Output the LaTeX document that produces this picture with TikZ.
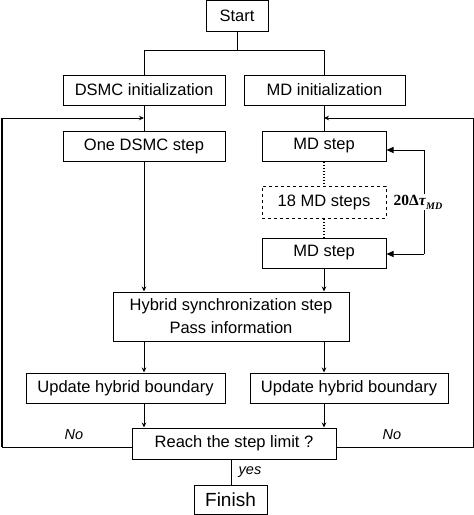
\documentclass[tikz,border=0pt]{standalone}
\usepackage{fontspec}
\setmainfont{Liberation Sans}
\newfontfamily\serifmd{Liberation Serif}
\usetikzlibrary{arrows.meta}
\begin{document}
\begin{tikzpicture}[x=1pt,y=-1pt,
  box/.style={draw,line width=1pt,inner sep=0pt,font=\fontsize{16.5}{20}\selectfont,align=center},
  ln/.style={line width=1pt},
  arr/.style={line width=1pt,-{Stealth[length=5pt,width=4.5pt]}},
  barr/.style={line width=1pt,-{Triangle[length=7pt,width=6pt]}},
  lab/.style={font=\fontsize{14.5}{16}\selectfont\itshape,inner sep=0pt}]
\useasboundingbox (0,0) rectangle (474,515);
\node[box,minimum width=62pt,minimum height=31pt] (start) at (237,16) {Start};
\node[box,minimum width=162pt,minimum height=30pt] (dinit) at (144,90) {DSMC initialization};
\node[box,minimum width=161pt,minimum height=30pt] (minit) at (324.5,90) {MD initialization};
\node[box,minimum width=162pt,minimum height=30pt] (dstep) at (144,146) {One DSMC step};
\node[box,minimum width=124pt,minimum height=30pt] (md1) at (324,146) {MD step};
\node[box,dashed,minimum width=124pt,minimum height=32pt] (md18) at (324,202) {18 MD steps};
\node[box,minimum width=124pt,minimum height=30pt] (md2) at (324,253) {MD step};
\node[box,minimum width=236pt,minimum height=49pt] (hyb) at (231,316.5) {Hybrid synchronization step\\[3pt]Pass information};
\node[box,minimum width=199pt,minimum height=30pt] (updl) at (125.5,388) {Update hybrid boundary};
\node[box,minimum width=198pt,minimum height=30pt] (updr) at (349,388) {Update hybrid boundary};
\node[box,minimum width=204pt,minimum height=31pt] (reach) at (234,443.5) {Reach the step limit ?};
\node[box,minimum width=73pt,minimum height=29pt,font=\fontsize{19}{22}\selectfont] (fin) at (230.5,499.5) {Finish};
% split from start
\coordinate (split) at (237,50);
\draw[ln] (start.south) -- (split);
\draw[ln] (split) -| (dinit.north);
\draw[ln] (split) -| ([xshift=-0.5pt]minit.north);
% columns
\draw[ln] (dinit.south) -- (dstep.north);
\draw[ln] ([xshift=-0.5pt]minit.south) -- (md1.north);
\draw[ln,dotted,line width=1.3pt] (md1.south) -- (md18.north);
\draw[ln,dotted,line width=1.3pt] (md18.south) -- (md2.north);
% MD loop
\coordinate (r1) at (424,150);
\coordinate (r2) at (424,254);
\draw[ln] (r1) -- (r2);
\draw[barr] (r1) -- (md1.east |- r1);
\draw[barr] (r2) -- (md2.east |- r2);
\node[fill=white,inner sep=1pt,font=\fontsize{15.5}{16}\selectfont] (tau) at (418,202) {\serifmd\bfseries 20Δ\textit{τ}\raisebox{-4pt}{\fontsize{10}{10}\selectfont\itshape MD}};
% into hybrid
\draw[arr] (dstep.south) -- (dstep.south |- hyb.north);
\draw[arr] (md2.south) -- (md2.south |- hyb.north);
% hybrid to updates
\coordinate (hl) at (144,341);
\coordinate (hr) at (324,341);
\draw[arr] (hl) -- (hl |- updl.north);
\draw[arr] (hr) -- (hr |- updr.north);
% updates to reach
\coordinate (ul) at (144,403);
\coordinate (ur) at (324,403);
\draw[arr] (ul) -- (ul |- reach.north);
\draw[arr] (ur) -- (ur |- reach.north);
% outer loops
\coordinate (ll) at (2,447);
\coordinate (lt) at (2,118);
\coordinate (rl) at (473,447);
\coordinate (rt) at (473,118);
\draw[ln] (reach.west |- ll) -- (ll);
\draw[ln,line width=2pt] (ll) -- (lt);
\draw[arr] (lt) -- (144,118);
\draw[ln] (reach.east |- rl) -- (rl) -- (rt);
\draw[arr] (rt) -- (324,118);
% to finish
\coordinate (rs) at (231,459);
\draw[ln] (rs) -- (rs |- fin.north);
% labels
\node[lab] (no1) at (74,435) {No};
\node[lab] (no2) at (392,435) {No};
\node[lab] (yes) at (250,472) {yes};
\end{tikzpicture}
\end{document}
